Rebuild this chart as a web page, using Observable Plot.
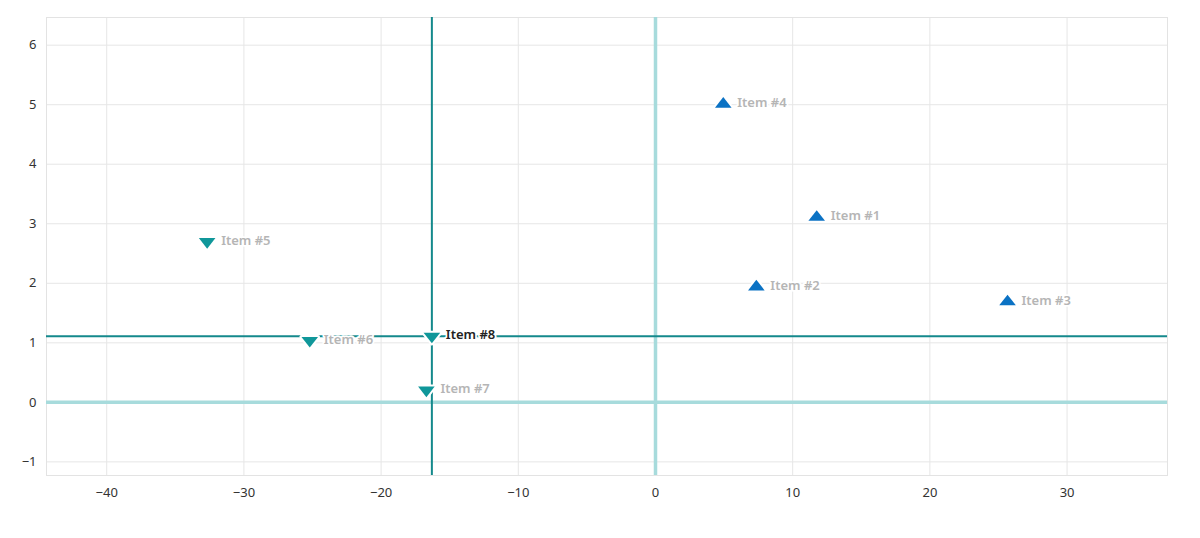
<!DOCTYPE html>
<html>
<head>
<meta charset="utf-8">
<script src="https://cdn.jsdelivr.net/npm/d3@7"></script>
<script src="https://cdn.jsdelivr.net/npm/@observablehq/plot@0.6"></script>
<style>
  html, body { margin: 0; padding: 0; background: #fff; }
  #chart svg { display: block; }
</style>
</head>
<body>
<div id="chart"></div>
<script>
const labels = ["Item #1", "Item #2", "Item #3", "Item #4", "Item #5", "Item #6", "Item #7", "Item #8"];
const xValues = [11.75, 7.35, 25.66, 4.94, -32.68, -25.2, -16.7, -16.3];
const yValues = [3.11, 1.94, 1.69, 5.01, 2.70, 1.04, 0.205, 1.11];
const directions = ["up", "up", "up", "up", "down", "down", "down", "down"];
const highlighted = "Item #8";
const xTicks = [-40, -30, -20, -10, 0, 10, 20, 30];
const yTicks = [-1, 0, 1, 2, 3, 4, 5, 6];

const data = labels.map((label, i) => ({
  label, x: xValues[i], y: yValues[i], dir: directions[i]
}));
const sel = data.find(d => d.label === highlighted);

// flattened triangle (symbol shape), centroid at origin
const flatTriangle = {
  draw(ctx) {
    const w = 8.3, h = 10.6;
    ctx.moveTo(0, -2 * h / 3);
    ctx.lineTo(w, h / 3);
    ctx.lineTo(-w, h / 3);
    ctx.closePath();
  }
};

const fmt = d => d < 0 ? "\u2212" + Math.abs(d) : String(d);
const font = "'Noto Sans', 'Open Sans', sans-serif";

const chart = Plot.plot({
  width: 1200,
  height: 538,
  marginLeft: 46,
  marginRight: 33,
  marginTop: 17,
  marginBottom: 63,
  style: { fontFamily: font, fontSize: "13px", color: "#333", background: "#fff" },
  x: { domain: [-44.39, 37.32], label: null },
  y: { domain: [-1.229, 6.465], label: null },
  marks: [
    Plot.gridX(xTicks, { stroke: "#e6e6e6", strokeOpacity: 1 }),
    Plot.gridY(yTicks, { stroke: "#e6e6e6", strokeOpacity: 1 }),
    Plot.frame({ stroke: "#e3e3e3" }),
    Plot.axisX(xTicks, { tickSize: 0, tickPadding: 12, tickFormat: fmt, label: null, fill: "#333", fontSize: 13 }),
    Plot.axisY(yTicks, { tickSize: 0, tickPadding: 10, tickFormat: fmt, label: null, fill: "#333", fontSize: 13 }),
    Plot.ruleX([0], { stroke: "#a7dbdc", strokeWidth: 3.5 }),
    Plot.ruleY([0], { stroke: "#a7dbdc", strokeWidth: 3.5 }),
    Plot.ruleX([sel.x], { stroke: "#14898c", strokeWidth: 2 }),
    Plot.ruleY([sel.y], { stroke: "#14898c", strokeWidth: 2 }),
    Plot.dot(data, {
      x: "x", y: "y",
      symbol: flatTriangle,
      r: 8,
      rotate: d => d.dir === "up" ? 0 : 180,
      fill: d => d.dir === "up" ? "#0b72c4" : "#10979a",
      stroke: "white",
      strokeWidth: 4,
      strokeLinejoin: "round",
      paintOrder: "stroke"
    }),
    Plot.text(data, {
      x: "x", y: "y",
      text: "label",
      dx: 14, dy: -1,
      textAnchor: "start",
      fontSize: 13,
      fontWeight: 600,
      fill: d => d.label === highlighted ? "#222" : "#b5b5b5",
      stroke: "white",
      strokeWidth: 3.5
    })
  ]
});

document.getElementById("chart").appendChild(chart);
</script>
</body>
</html>
